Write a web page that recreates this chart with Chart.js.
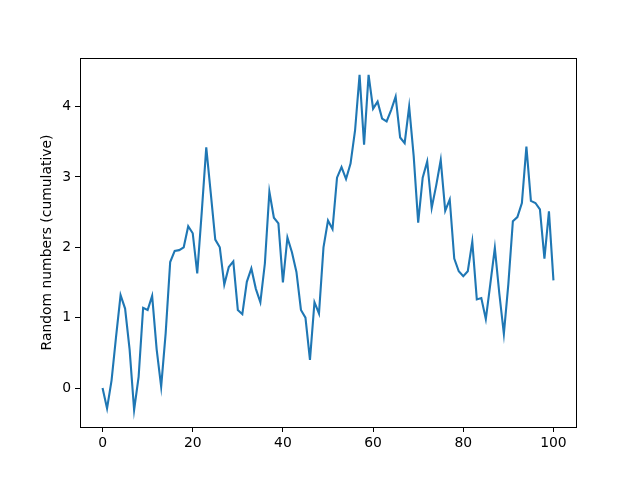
<!DOCTYPE html>
<html>
<head>
<meta charset="utf-8">
<script src="https://cdn.jsdelivr.net/npm/chart.js@4.4.1/dist/chart.umd.min.js"></script>
<style>
    html, body { margin: 0; padding: 0; background: #fff; }
</style>
</head>
<body>
<canvas id="walk" width="640" height="480"></canvas>
<script>
// cumulative random walk
const walkValues = [
    0.00, -0.29, 0.11, 0.73, 1.32, 1.13, 0.55, -0.31, 0.16, 1.14,
    1.11, 1.31, 0.55, 0.02, 0.78, 1.79, 1.95, 1.96, 2.00, 2.30,
    2.20, 1.63, 2.50, 3.42, 2.77, 2.11, 2.00, 1.47, 1.72, 1.80,
    1.11, 1.05, 1.51, 1.70, 1.41, 1.22, 1.77, 2.79, 2.42, 2.34,
    1.50, 2.14, 1.93, 1.65, 1.11, 1.00, 0.40, 1.22, 1.06, 2.00,
    2.38, 2.26, 2.99, 3.14, 2.97, 3.19, 3.66, 4.45, 3.46, 4.45,
    3.97, 4.07, 3.83, 3.79, 3.95, 4.14, 3.56, 3.48, 4.00, 3.30,
    2.35, 2.99, 3.22, 2.56, 2.88, 3.24, 2.52, 2.68, 1.84, 1.66,
    1.59, 1.66, 2.08, 1.26, 1.28, 0.98, 1.48, 1.99, 1.34, 0.77,
    1.48, 2.37, 2.43, 2.63, 3.43, 2.66, 2.63, 2.54, 1.84, 2.51,
    1.53
];
const xTicks = [0, 20, 40, 60, 80, 100];
const yTicks = [0, 1, 2, 3, 4];
const yLabel = 'Random numbers (cumulative)';

const tickFont = { family: 'DejaVu Sans', size: 13.9 };

// draws the full box around the plot, like matplotlib spines
const frame = {
    id: 'frame',
    afterDraw(chart) {
        const a = chart.chartArea;
        const ctx = chart.ctx;
        ctx.save();
        ctx.strokeStyle = '#000';
        ctx.lineWidth = 1;
        ctx.strokeRect(Math.round(a.left) + 0.5, Math.round(a.top) + 0.5,
            Math.round(a.right - a.left), Math.round(a.bottom - a.top));
        ctx.restore();
    }
};

var ctx = document.getElementById('walk').getContext('2d');
var walkChart = new Chart(ctx, {
    type: 'line',
    data: {
        datasets: [{
            data: walkValues.map((v, i) => ({ x: i, y: v })),
            borderColor: '#1f77b4',
            borderWidth: 2.1,
            pointRadius: 0,
            tension: 0,
            fill: false
        }]
    },
    options: {
        responsive: false,
        animation: false,
        devicePixelRatio: 1,
        layout: { padding: { top: 58, right: 64, left: 0, bottom: 0 } },
        plugins: {
            legend: { display: false },
            tooltip: { enabled: false }
        },
        scales: {
            x: {
                type: 'linear',
                min: -5,
                max: 105,
                afterBuildTicks: (s) => { s.ticks = xTicks.map(v => ({ value: v })); },
                afterFit: (s) => { s.height = 53; },
                grid: { drawOnChartArea: false, drawTicks: true, tickLength: 5, tickColor: '#000' },
                border: { display: false },
                ticks: { color: '#000', font: tickFont, padding: 3, maxRotation: 0 }
            },
            y: {
                type: 'linear',
                min: -0.553,
                max: 4.69,
                afterBuildTicks: (s) => { s.ticks = yTicks.map(v => ({ value: v })); },
                afterFit: (s) => { s.width = 80; },
                grid: { drawOnChartArea: false, drawTicks: true, tickLength: 5, tickColor: '#000' },
                border: { display: false },
                ticks: { color: '#000', font: tickFont, padding: 4 },
                title: {
                    display: true,
                    text: yLabel,
                    color: '#000',
                    font: tickFont,
                    padding: { top: 39, bottom: 0 }
                }
            }
        }
    },
    plugins: [frame]
});
</script>
</body>
</html>
